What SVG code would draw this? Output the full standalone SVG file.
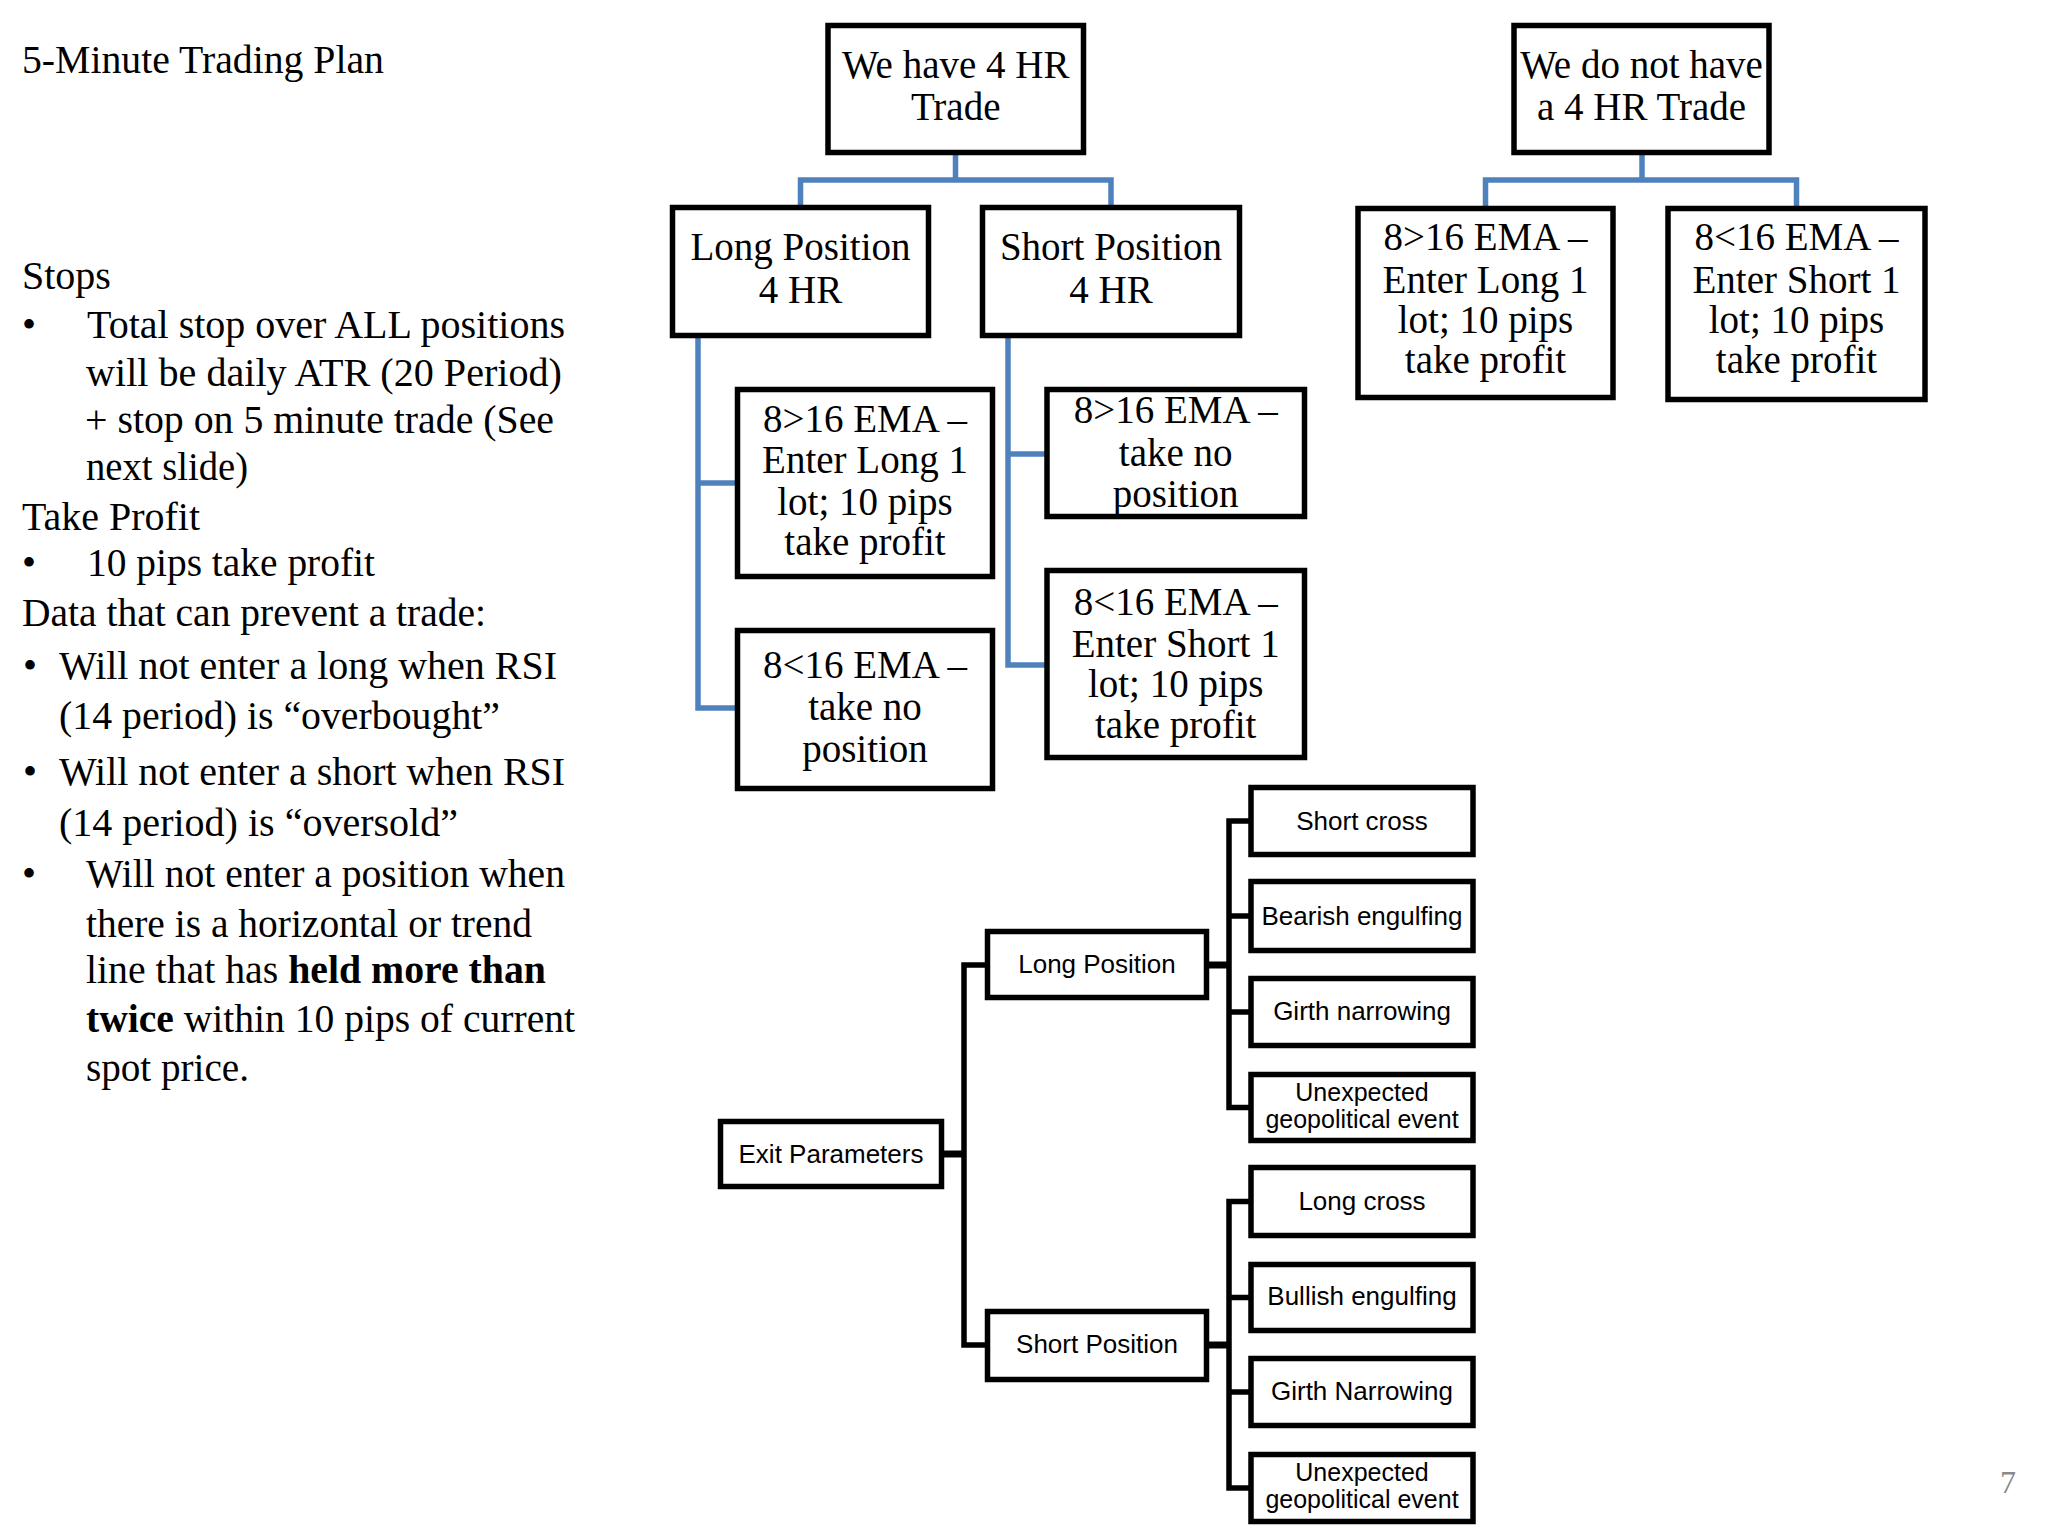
<svg xmlns="http://www.w3.org/2000/svg" width="2048" height="1536" viewBox="0 0 2048 1536">
<style>
.box{fill:#fff;stroke:#000;stroke-width:5.5}
.blue{fill:none;stroke:#4F81BD;stroke-width:5.5}
.blk{fill:none;stroke:#000;stroke-width:5.5}
.stub{fill:none;stroke:#000;stroke-width:7}
.serif{font-family:"Liberation Serif","Times New Roman",serif;fill:#000}
.lt{font-size:40px}
.bt{font-size:39px;text-anchor:middle}
.st{font-family:"Liberation Sans",Arial,sans-serif;font-size:26px;text-anchor:middle;fill:#000}
.st2{font-size:25px}
</style>
<rect width="2048" height="1536" fill="#fff"/>

<g id="left-text" class="serif lt">
<text x="22" y="73" textLength="362" lengthAdjust="spacingAndGlyphs">5-Minute Trading Plan</text>
<text x="22" y="289">Stops</text>
<text x="22" y="338">•</text>
<text x="87" y="338" textLength="478" lengthAdjust="spacingAndGlyphs">Total stop over ALL positions</text>
<text x="86" y="386" textLength="476" lengthAdjust="spacingAndGlyphs">will be daily ATR (20 Period)</text>
<text x="85" y="433" textLength="469" lengthAdjust="spacingAndGlyphs">+ stop on 5 minute trade (See</text>
<text x="86" y="480" textLength="162" lengthAdjust="spacingAndGlyphs">next slide)</text>
<text x="22" y="530" textLength="178" lengthAdjust="spacingAndGlyphs">Take Profit</text>
<text x="22" y="576">•</text>
<text x="87" y="576" textLength="288" lengthAdjust="spacingAndGlyphs">10 pips take profit</text>
<text x="22" y="626" textLength="464" lengthAdjust="spacingAndGlyphs">Data that can prevent a trade:</text>
<text x="23" y="679">•</text>
<text x="59" y="679" textLength="498" lengthAdjust="spacingAndGlyphs">Will not enter a long when RSI</text>
<text x="59" y="729" textLength="441" lengthAdjust="spacingAndGlyphs">(14 period) is “overbought”</text>
<text x="23" y="785">•</text>
<text x="59" y="785" textLength="506" lengthAdjust="spacingAndGlyphs">Will not enter a short when RSI</text>
<text x="59" y="836" textLength="399" lengthAdjust="spacingAndGlyphs">(14 period) is “oversold”</text>
<text x="22" y="887">•</text>
<text x="86" y="887" textLength="479" lengthAdjust="spacingAndGlyphs">Will not enter a position when</text>
<text x="86" y="937" textLength="446" lengthAdjust="spacingAndGlyphs">there is a horizontal or trend</text>
<text x="86" y="983" textLength="460" lengthAdjust="spacingAndGlyphs">line that has <tspan font-weight="bold">held more than</tspan></text>
<text x="86" y="1032" textLength="489" lengthAdjust="spacingAndGlyphs"><tspan font-weight="bold">twice</tspan> within 10 pips of current</text>
<text x="86" y="1081" textLength="163" lengthAdjust="spacingAndGlyphs">spot price.</text>
</g>

<g id="connectors">
<path class="blue" d="M800.5,206 V180 H1111 V206 M955.5,155 V180"/>
<path class="blue" d="M698,338 V708 H737 M698,483 H737"/>
<path class="blue" d="M1008,338 V665 H1046 M1008,454 H1046"/>
<path class="blue" d="M1485.5,206 V180 H1796.5 V206 M1642,155 V180"/>
<path class="stub" d="M943,1154 H964"/>
<path class="blk" d="M986,965 H964 V1345 H986"/>
<path class="stub" d="M1208,965 H1229"/>
<path class="blk" d="M1250,821 H1229 V1107.5 H1250 M1229,916 H1250 M1229,1012 H1250"/>
<path class="stub" d="M1208,1345 H1229"/>
<path class="blk" d="M1250,1201.5 H1229 V1488 H1250 M1229,1297.5 H1250 M1229,1392 H1250"/>
</g>

<g id="n-have" class="serif">
<rect class="box" x="828" y="25.5" width="255.5" height="127"/>
<text class="bt"><tspan x="955.7" y="78">We have 4 HR</tspan><tspan x="955.7" y="120">Trade</tspan></text>
</g>
<g id="n-long4" class="serif">
<rect class="box" x="672.5" y="207.5" width="256" height="128"/>
<text class="bt"><tspan x="800.5" y="260">Long Position</tspan><tspan x="800.5" y="303">4 HR</tspan></text>
</g>
<g id="n-short4" class="serif">
<rect class="box" x="982.5" y="207.5" width="257" height="128"/>
<text class="bt"><tspan x="1111" y="260">Short Position</tspan><tspan x="1111" y="303">4 HR</tspan></text>
</g>
<g id="n-long-enter" class="serif">
<rect class="box" x="737.5" y="389.5" width="255" height="187"/>
<text class="bt"><tspan x="865" y="432">8&gt;16 EMA –</tspan><tspan x="865" y="473">Enter Long 1</tspan><tspan x="865" y="515">lot; 10 pips</tspan><tspan x="865" y="555">take profit</tspan></text>
</g>
<g id="n-long-none" class="serif">
<rect class="box" x="737.5" y="630.5" width="255" height="158"/>
<text class="bt"><tspan x="865" y="678">8&lt;16 EMA –</tspan><tspan x="865" y="720">take no</tspan><tspan x="865" y="762">position</tspan></text>
</g>
<g id="n-short-none" class="serif">
<rect class="box" x="1047" y="389.5" width="257.5" height="127"/>
<text class="bt"><tspan x="1175.7" y="423">8&gt;16 EMA –</tspan><tspan x="1175.7" y="466">take no</tspan><tspan x="1175.7" y="507">position</tspan></text>
</g>
<g id="n-short-enter" class="serif">
<rect class="box" x="1047" y="570.5" width="257.5" height="187"/>
<text class="bt"><tspan x="1175.7" y="615">8&lt;16 EMA –</tspan><tspan x="1175.7" y="657">Enter Short 1</tspan><tspan x="1175.7" y="697">lot; 10 pips</tspan><tspan x="1175.7" y="738">take profit</tspan></text>
</g>
<g id="n-nothave" class="serif">
<rect class="box" x="1514" y="25.5" width="255" height="127"/>
<text class="bt"><tspan x="1641.5" y="78">We do not have</tspan><tspan x="1641.5" y="120">a 4 HR Trade</tspan></text>
</g>
<g id="n-nh-long" class="serif">
<rect class="box" x="1358" y="208.5" width="255" height="189"/>
<text class="bt"><tspan x="1485.5" y="250">8&gt;16 EMA –</tspan><tspan x="1485.5" y="293">Enter Long 1</tspan><tspan x="1485.5" y="333">lot; 10 pips</tspan><tspan x="1485.5" y="373">take profit</tspan></text>
</g>
<g id="n-nh-short" class="serif">
<rect class="box" x="1668" y="208.5" width="257" height="191"/>
<text class="bt"><tspan x="1796.5" y="250">8&lt;16 EMA –</tspan><tspan x="1796.5" y="293">Enter Short 1</tspan><tspan x="1796.5" y="333">lot; 10 pips</tspan><tspan x="1796.5" y="373">take profit</tspan></text>
</g>

<g id="n-exit">
<rect class="box" x="720.5" y="1121.5" width="221" height="65"/>
<text class="st" x="831" y="1163">Exit Parameters</text>
</g>
<g id="n-exit-long">
<rect class="box" x="987.5" y="931.5" width="219" height="66"/>
<text class="st" x="1097" y="973">Long Position</text>
</g>
<g id="n-exit-short">
<rect class="box" x="987.5" y="1311.5" width="219" height="68"/>
<text class="st" x="1097" y="1353">Short Position</text>
</g>
<g id="n-short-cross">
<rect class="box" x="1251" y="787.5" width="222" height="67"/>
<text class="st" x="1362" y="830">Short cross</text>
</g>
<g id="n-bearish">
<rect class="box" x="1251" y="881.5" width="222" height="69"/>
<text class="st" x="1362" y="925">Bearish engulfing</text>
</g>
<g id="n-girth1">
<rect class="box" x="1251" y="978.5" width="222" height="67"/>
<text class="st" x="1362" y="1020">Girth narrowing</text>
</g>
<g id="n-unexp1">
<rect class="box" x="1251" y="1074.5" width="222" height="66"/>
<text class="st st2"><tspan x="1362" y="1101">Unexpected</tspan><tspan x="1362" y="1128">geopolitical event</tspan></text>
</g>
<g id="n-long-cross">
<rect class="box" x="1251" y="1167.5" width="222" height="68"/>
<text class="st" x="1362" y="1210">Long cross</text>
</g>
<g id="n-bullish">
<rect class="box" x="1251" y="1264.5" width="222" height="66"/>
<text class="st" x="1362" y="1305">Bullish engulfing</text>
</g>
<g id="n-girth2">
<rect class="box" x="1251" y="1358.5" width="222" height="67"/>
<text class="st" x="1362" y="1400">Girth Narrowing</text>
</g>
<g id="n-unexp2">
<rect class="box" x="1251" y="1454.5" width="222" height="67"/>
<text class="st st2"><tspan x="1362" y="1481">Unexpected</tspan><tspan x="1362" y="1508">geopolitical event</tspan></text>
</g>

<text x="2000" y="1493" font-family="Liberation Serif, serif" font-size="32" fill="#8a8a8a">7</text>
</svg>
